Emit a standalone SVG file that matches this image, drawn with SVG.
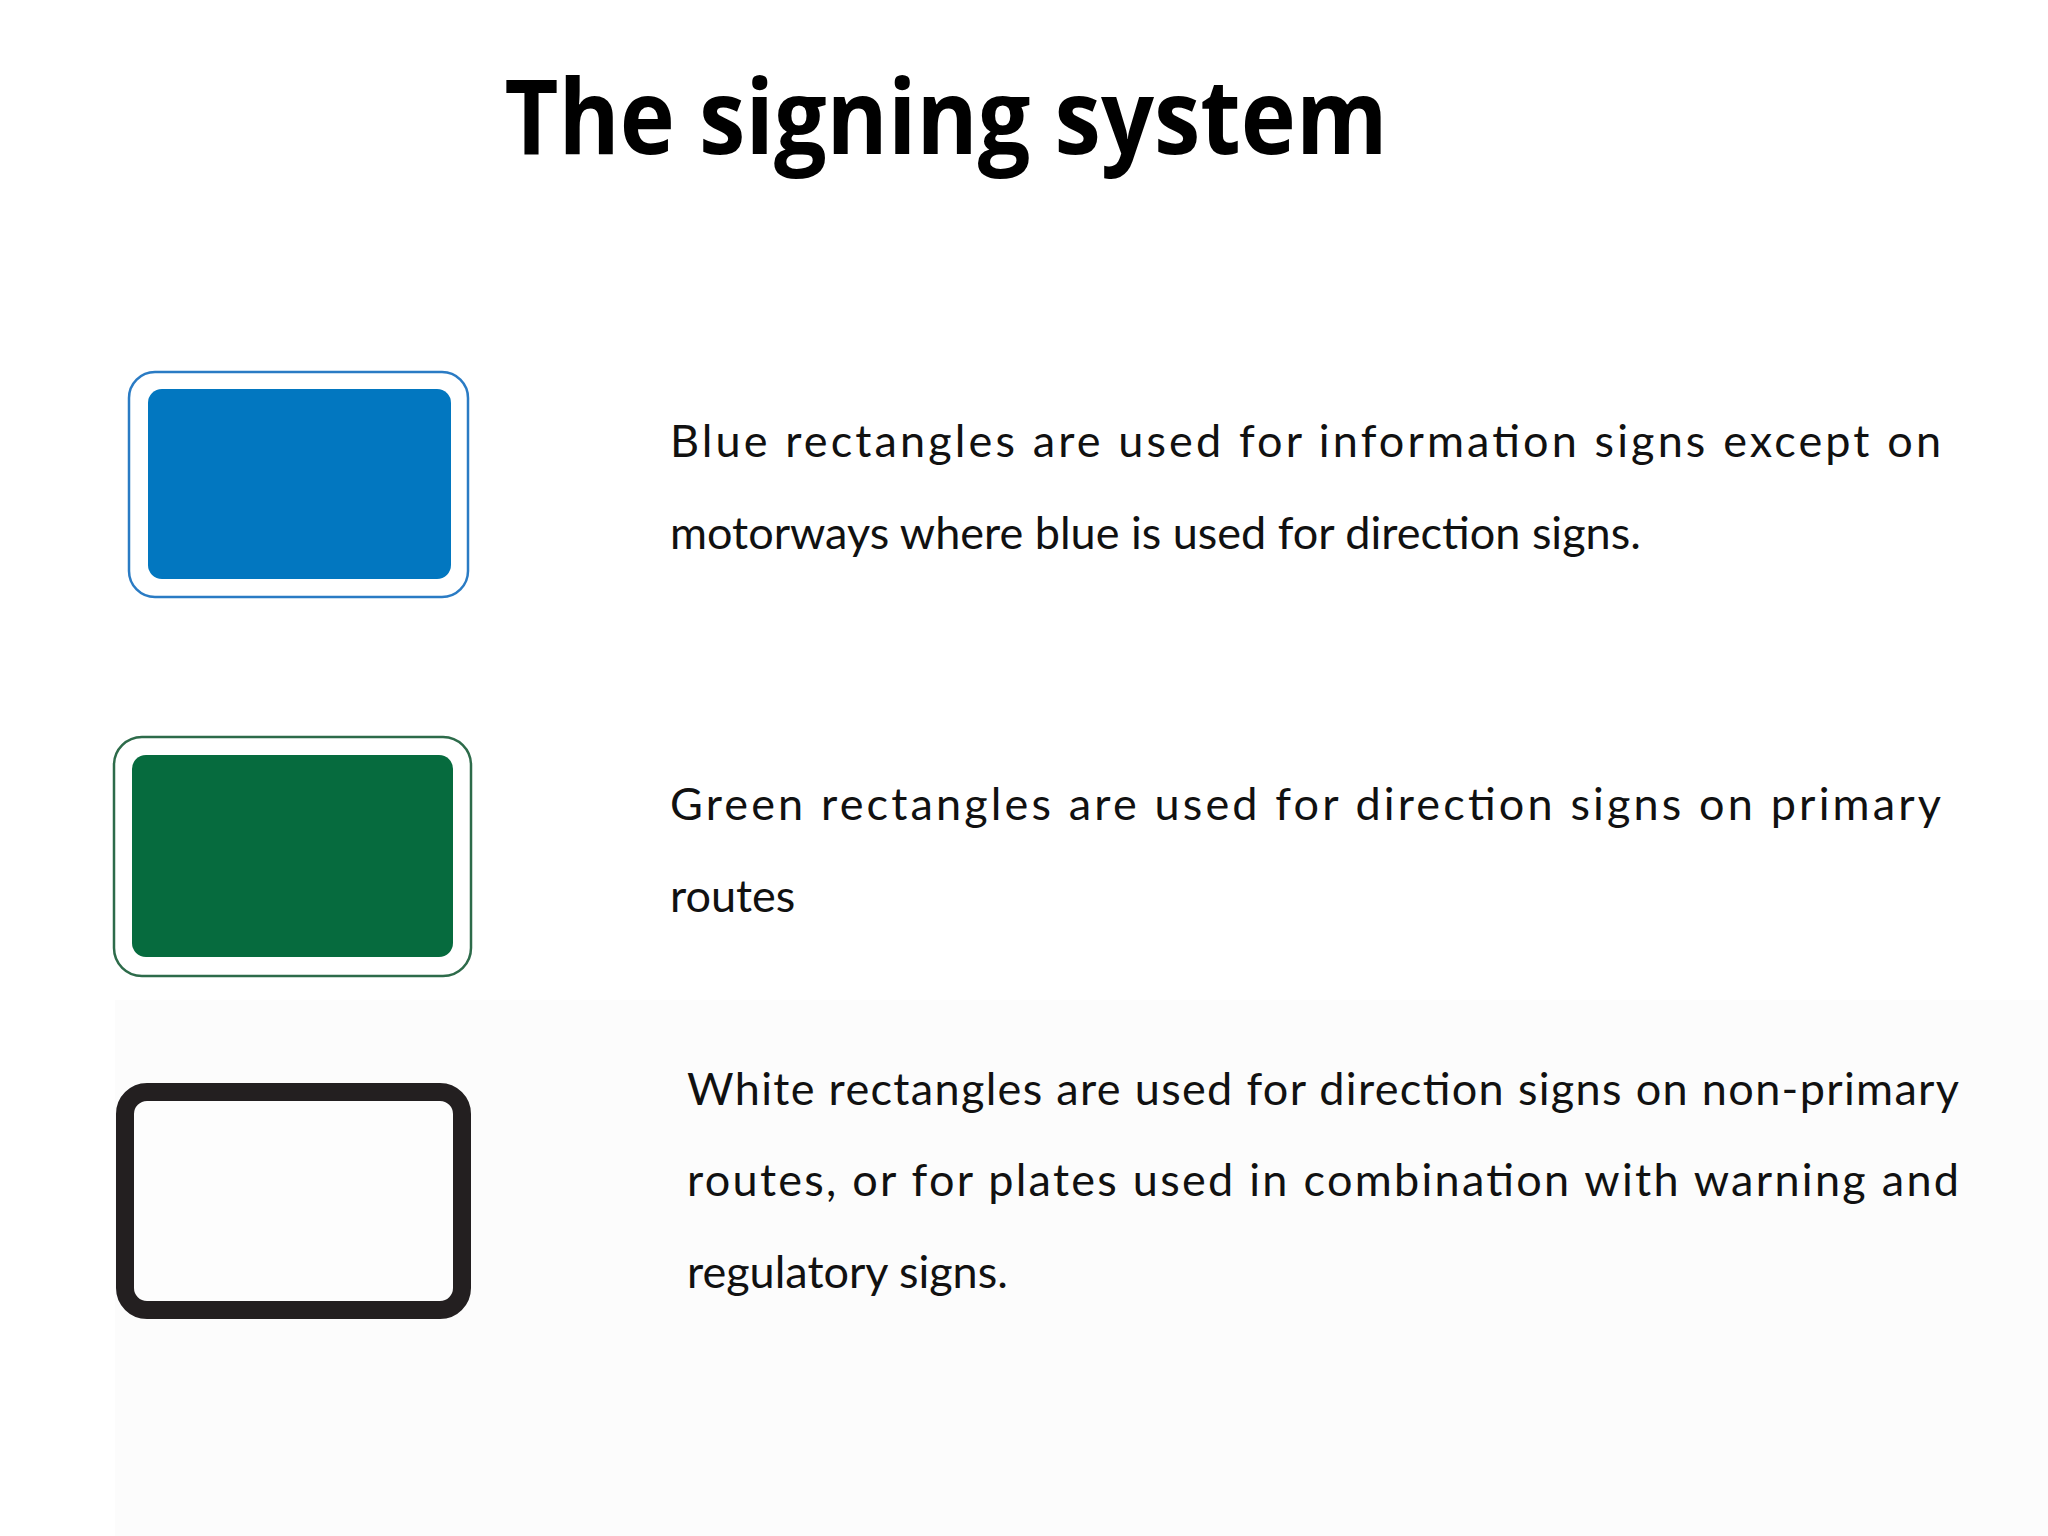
<svg xmlns="http://www.w3.org/2000/svg" width="2048" height="1536" viewBox="0 0 2048 1536">
<style>
.t{font-family:Lato,"Open Sans","Liberation Sans",sans-serif;font-size:45px;fill:#111}
.h{font-family:"Open Sans",Lato,sans-serif;font-weight:bold;font-size:104px;fill:#000}
</style>
<rect width="2048" height="1536" fill="#fff"/>
<rect x="115" y="1000" width="1933" height="536" fill="#fcfcfc"/>
<text class="h" x="946" y="154" text-anchor="middle" textLength="883" lengthAdjust="spacingAndGlyphs">The signing system</text>
<g id="blue">
<rect x="129" y="372" width="339" height="225" rx="26" fill="#fff" stroke="#2a7bc4" stroke-width="2.5"/>
<rect x="148" y="389" width="303" height="190" rx="14" fill="#0277c0"/>
</g>
<g id="green">
<rect x="114" y="737" width="357" height="239" rx="28" fill="#fff" stroke="#2d6b4a" stroke-width="2.5"/>
<rect x="132" y="755" width="321" height="202" rx="14" fill="#066b3e"/>
</g>
<g id="white">
<rect x="125" y="1092" width="337" height="218" rx="22" fill="#fdfdfd" stroke="#231f20" stroke-width="18"/>
</g>
<g id="texts">
<text class="t" x="670" y="457" textLength="1271" lengthAdjust="spacing">Blue rectangles are used for information signs except on</text>
<text class="t" x="670" y="549">motorways where blue is used for direction signs.</text>
<text class="t" x="670" y="820" textLength="1271" lengthAdjust="spacing">Green rectangles are used for direction signs on primary</text>
<text class="t" x="670" y="912">routes</text>
<text class="t" x="687" y="1105" textLength="1272" lengthAdjust="spacing">White rectangles are used for direction signs on non-primary</text>
<text class="t" x="687" y="1196" textLength="1272" lengthAdjust="spacing">routes, or for plates used in combination with warning and</text>
<text class="t" x="687" y="1288">regulatory signs.</text>
</g>
</svg>
